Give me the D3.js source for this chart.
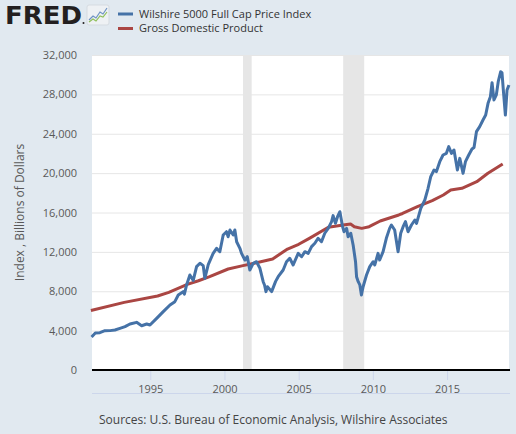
<!DOCTYPE html>
<html>
<head>
<meta charset="utf-8">
<script src="https://cdn.jsdelivr.net/npm/d3@7"></script>
<style>
  html, body { margin: 0; padding: 0; background: #e1e9f0; }
  svg { display: block; font-family: "Open Sans", "DejaVu Sans", sans-serif; }
</style>
</head>
<body>
<div id="chart"></div>
<script>
// ------------------------------ DATA ------------------------------
var wilshireDates = [
    "1991-01-18", "1991-04-20", "1991-08-10", "1991-12-12", "1992-04-20", "1992-08-15", "1992-12-15",
    "1993-04-20", "1993-08-20", "1994-01-30", "1994-06-03", "1994-10-05", "1994-12-25", "1995-06-07",
    "1995-11-17", "1996-05-01", "1996-08-28", "1996-11-20", "1997-03-20", "1997-04-20", "1997-06-13",
    "1997-09-02", "1997-11-24", "1998-02-14", "1998-05-08", "1998-07-27", "1998-09-05", "1998-11-28",
    "1999-03-29", "1999-06-21", "1999-09-09", "1999-12-01", "2000-02-20", "2000-04-01", "2000-05-15",
    "2000-08-04", "2000-09-13", "2000-10-27", "2001-01-15", "2001-02-24", "2001-05-19", "2001-07-16",
    "2001-09-16", "2001-12-08", "2002-02-28", "2002-05-23", "2002-08-11", "2002-09-13", "2002-10-19",
    "2002-11-24", "2003-03-07", "2003-06-13", "2003-08-15", "2003-12-16", "2004-03-07", "2004-05-26",
    "2004-08-18", "2004-12-20", "2005-03-14", "2005-06-03", "2005-08-23", "2005-11-14", "2006-02-03",
    "2006-04-23", "2006-07-16", "2006-10-05", "2006-12-28", "2007-03-22", "2007-04-28", "2007-06-25",
    "2007-08-15", "2007-10-12", "2007-12-17", "2008-01-23", "2008-03-25", "2008-05-01", "2008-07-06",
    "2008-09-02", "2008-10-31", "2008-11-25", "2009-01-05", "2009-02-14", "2009-03-25", "2009-05-05",
    "2009-07-28", "2009-10-16", "2010-01-08", "2010-02-17", "2010-05-08", "2010-06-17", "2010-09-09",
    "2010-11-28", "2011-02-17", "2011-04-02", "2011-06-21", "2011-09-13", "2011-11-17", "2012-01-15",
    "2012-03-13", "2012-05-15", "2012-08-07", "2012-10-30", "2012-12-10", "2013-03-25", "2013-07-02",
    "2013-09-20", "2013-11-25", "2014-02-14", "2014-04-12", "2014-07-05", "2014-09-24", "2014-12-15",
    "2015-02-10", "2015-04-20", "2015-06-20", "2015-09-12", "2015-11-10", "2016-01-30", "2016-03-28",
    "2016-06-17", "2016-09-05", "2016-10-25", "2016-12-24", "2017-03-14", "2017-06-03", "2017-08-08",
    "2017-10-05", "2017-12-02", "2018-01-12", "2018-02-28", "2018-04-27", "2018-06-13", "2018-08-11",
    "2018-09-13", "2018-10-23", "2018-12-06", "2019-01-16", "2019-03-04"
];
var wilshireValues = [
    3350, 3750, 3790, 3990, 4000, 4060, 4230,
    4400, 4670, 4840, 4500, 4670, 4570, 5250,
    5930, 6600, 6940, 7620, 7960, 7700, 8640,
    9650, 9100, 10500, 10840, 10600, 9310, 10700,
    11850, 12360, 12020, 13710, 14050, 13540, 14220,
    13710, 14220, 13030, 12360, 11850, 11170, 11510,
    10160, 10840, 11000, 10330, 8970, 8640, 7960,
    8460, 7960, 9000, 9480, 10160, 11000, 11350,
    10670, 11850, 11510, 12020, 11850, 12530, 12870,
    13380, 13030, 13890, 14390, 15070, 15680, 14900,
    15570, 16080, 14560, 14050, 14390, 13540, 13890,
    12700, 11000, 9480, 8970, 8640, 7620, 8460,
    9650, 10500, 11000, 10670, 11850, 11170, 12020,
    13380, 14390, 14730, 14220, 12020, 13890, 14560,
    15070, 14050, 14730, 15240, 14900, 16420, 17270,
    18460, 19640, 20320, 20150, 21160, 21840, 22010,
    22690, 22010, 22350, 20320, 21500, 19980, 21160,
    21840, 22450, 22600, 24210, 24720, 25400, 25900,
    27090, 27770, 29190, 27430, 27940, 29290, 30300,
    30200, 28100, 25900, 28440, 28950
];

var gdpDates = [
    "1991-01-01", "1993-04-01", "1995-07-01", "1996-04-01", "1997-07-01", "1998-04-01", "1999-01-01",
    "2000-04-01", "2001-04-01", "2002-01-01", "2003-04-01", "2004-04-01", "2005-01-01", "2005-10-01",
    "2007-01-01", "2008-01-01", "2008-07-01", "2008-10-01", "2009-04-01", "2009-10-01", "2010-07-01",
    "2011-10-01", "2012-01-01", "2013-01-01", "2014-01-01", "2014-10-01", "2015-04-01", "2016-01-01",
    "2017-01-01", "2017-10-01", "2018-10-01"
];
var gdpValues = [
    6050, 6870, 7520, 7890, 8700, 9070, 9480,
    10260, 10600, 10840, 11280, 12290, 12770, 13400,
    14500, 14730, 14830, 14560, 14390, 14560, 15140,
    15750, 15900, 16600, 17200, 17780, 18290, 18460,
    19130, 19980, 20930
];

var recessionStarts = ["2001-04-01", "2008-01-01"],
    recessionEnds = ["2001-11-01", "2009-06-01"];

var yTicks = [0, 4000, 8000, 12000, 16000, 20000, 24000, 28000, 32000],
    xTickYears = [1995, 2000, 2005, 2010, 2015];

var seriesNames = ["Wilshire 5000 Full Cap Price Index", "Gross Domestic Product"];

// ------------------------------ PLOTTING CONFIG ------------------------------
var width = 516,
    height = 434,
    plotLeft = 92,
    plotRight = 509,
    plotTop = 55,
    plotBottom = 370;

var colorWilshire = "#4572a7",
    colorGdp = "#aa4643",
    colorShade = "#e6e6e6",
    colorGrid = "#e6e6e6",
    colorTick = "#ccd6eb",
    colorLabel = "#595959";

var parseDate = d3.timeParse("%Y-%m-%d");

var wilshire = wilshireDates.map(function (d, i) { return {date: parseDate(d), value: wilshireValues[i]}; }),
    gdp = gdpDates.map(function (d, i) { return {date: parseDate(d), value: gdpValues[i]}; });

var x = d3.scaleTime()
    .domain([parseDate("1991-01-28"), parseDate("2019-03-05")])
    .range([plotLeft, plotRight]);

var y = d3.scaleLinear()
    .domain([0, 32000])
    .range([plotBottom, plotTop]);

// ------------------------------------ MAIN -------------------------------------
var svg = d3.select("#chart")
    .append("svg")
    .attr("width", width)
    .attr("height", height);

svg.append("rect")
    .attr("width", width)
    .attr("height", height)
    .attr("fill", "#e1e9f0");

svg.append("rect")
    .attr("x", plotLeft)
    .attr("y", plotTop)
    .attr("width", plotRight - plotLeft)
    .attr("height", plotBottom - plotTop)
    .attr("fill", "#ffffff");

// recession bands
svg.selectAll("rect.recession")
    .data(recessionStarts)
    .enter()
    .append("rect")
    .attr("class", "recession")
    .attr("x", function (d) { return x(parseDate(d)); })
    .attr("y", plotTop)
    .attr("width", function (d, i) { return x(parseDate(recessionEnds[i])) - x(parseDate(d)); })
    .attr("height", plotBottom - plotTop)
    .attr("fill", colorShade);

// gridlines + y labels
var yAxis = d3.axisLeft(y)
    .tickValues(yTicks)
    .tickSize(-(plotRight - plotLeft))
    .tickPadding(15)
    .tickFormat(d3.format(",d"));

var yAxisG = svg.append("g")
    .attr("transform", "translate(" + plotLeft + ",0)")
    .call(yAxis);
yAxisG.select(".domain").remove();
yAxisG.selectAll(".tick line").attr("stroke", colorGrid);
yAxisG.selectAll(".tick text")
    .attr("fill", colorLabel)
    .attr("font-size", "11px")
    .attr("font-family", "Open Sans, sans-serif");

// x axis ticks + labels
var xAxis = d3.axisBottom(x)
    .tickValues(xTickYears.map(function (d) { return new Date(d, 0, 1); }))
    .tickSize(10)
    .tickPadding(5)
    .tickFormat(d3.timeFormat("%Y"));

var xAxisG = svg.append("g")
    .attr("transform", "translate(0," + plotBottom + ")")
    .call(xAxis);
xAxisG.select(".domain").remove();
xAxisG.selectAll(".tick line").attr("stroke", colorTick);
xAxisG.selectAll(".tick text")
    .attr("fill", colorLabel)
    .attr("font-size", "11px")
    .attr("font-family", "Open Sans, sans-serif");

svg.append("line")
    .attr("x1", plotLeft).attr("x2", plotRight + 1)
    .attr("y1", 393.5).attr("y2", 393.5)
    .attr("stroke", colorTick);

// series lines
var line = d3.line()
    .x(function (d) { return x(d.date); })
    .y(function (d) { return y(d.value); });

svg.append("path")
    .datum(gdp)
    .attr("fill", "none")
    .attr("stroke", colorGdp)
    .attr("stroke-width", 3)
    .attr("stroke-linejoin", "round")
    .attr("d", line);

svg.append("path")
    .datum(wilshire)
    .attr("fill", "none")
    .attr("stroke", colorWilshire)
    .attr("stroke-width", 3)
    .attr("stroke-linejoin", "round")
    .attr("d", line);

// zero baseline
svg.append("line")
    .attr("x1", plotLeft).attr("x2", plotRight + 1)
    .attr("y1", y(0)).attr("y2", y(0))
    .attr("stroke", "#000000")
    .attr("stroke-width", 2);

// -------------------------------- PLOT LABELS ----------------------------------
svg.append("text")
    .attr("transform", "translate(24," + ((plotTop + plotBottom) / 2) + ") rotate(-90)")
    .attr("text-anchor", "middle")
    .attr("fill", colorLabel)
    .attr("font-size", "12px")
    .text("Index , Billions of Dollars");

svg.append("text")
    .attr("x", 99)
    .attr("y", 424)
    .attr("fill", "#444444")
    .attr("font-size", "12px")
    .text("Sources: U.S. Bureau of Economic Analysis, Wilshire Associates");

// legend
var legend = svg.selectAll("g.legend")
    .data(seriesNames)
    .enter()
    .append("g")
    .attr("class", "legend")
    .attr("transform", function (d, i) { return "translate(118," + (14 + i * 14.5) + ")"; });

legend.append("line")
    .attr("x1", 0).attr("x2", 15)
    .attr("stroke", function (d, i) { return i === 0 ? colorWilshire : colorGdp; })
    .attr("stroke-width", 3);

legend.append("text")
    .attr("x", 21)
    .attr("dy", "0.35em")
    .attr("fill", "#333333")
    .attr("font-size", "11px")
    .text(function (d) { return d; });

// FRED logo
svg.append("text")
    .attr("x", 5)
    .attr("y", 24)
    .attr("font-family", "DejaVu Sans, sans-serif")
    .attr("font-weight", "bold")
    .attr("font-size", "24px")
    .attr("textLength", 77)
    .attr("lengthAdjust", "spacingAndGlyphs")
    .attr("fill", "#231f20")
    .text("FRED");

svg.append("circle").attr("cx", 83.5).attr("cy", 23).attr("r", 1).attr("fill", "#231f20");

var icon = svg.append("g").attr("transform", "translate(87,5)");
icon.append("rect")
    .attr("width", 22).attr("height", 20).attr("rx", 2)
    .attr("fill", "#eef1f4").attr("stroke", "#d5dbe1");
icon.append("path")
    .attr("d", "M2,15 L6,11 L9,13 L13,7 L16,9 L20,3")
    .attr("fill", "none").attr("stroke", "#6f93c3").attr("stroke-width", 1.2);
icon.append("path")
    .attr("d", "M2,17 L6,14 L9,16 L13,11 L16,12 L20,7")
    .attr("fill", "none").attr("stroke", "#8fbf5a").attr("stroke-width", 1.2);
</script>
</body>
</html>
